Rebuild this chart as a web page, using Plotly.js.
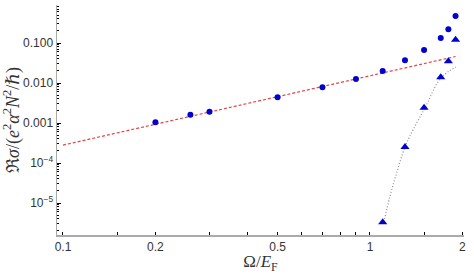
<!DOCTYPE html>
<html><head><meta charset="utf-8">
<script src="https://cdn.plot.ly/plotly-3.0.1.min.js"></script>
<style>body{margin:0;padding:0;background:#fff}#plot{width:474px;height:274px}</style>
</head><body><div id="plot"></div>
<script>
// Data
const dotX = [0.2, 0.26, 0.30, 0.5, 0.7, 0.9, 1.1, 1.3, 1.5, 1.7, 1.8, 1.9];
const dotY = [0.00105, 0.0016, 0.0019, 0.0044, 0.0078, 0.0125, 0.02, 0.037, 0.067, 0.133, 0.22, 0.47];
const triX = [1.1, 1.3, 1.5, 1.7, 1.8, 1.9];
const triY = [3.3e-6, 2.5e-4, 0.0024, 0.014, 0.035, 0.12];
const fitX = [0.1, 1.9];
const fitY = [2.8e-4, 0.046];
const curveX = [1.11, 1.16, 1.224, 1.30, 1.38, 1.51, 1.70, 1.905];
const curveY = [3.35e-6, 1.41e-5, 5.96e-5, 2.5e-4, 6.7e-4, 2.37e-3, 1.33e-2, 0.025];
const xTickVals = [0.1, 0.15, 0.2, 0.3, 0.4, 0.5, 0.6, 0.7, 0.8, 0.9, 1, 1.5, 2];
const xTickText = ['0.1', '', '0.2', '', '', '0.5', '', '', '', '', '1', '', '2'];
const yTickVals = [1e-5, 1e-4, 1e-3, 1e-2, 1e-1];
const yTickText = ['10<sup>−5</sup>', '10<sup>−4</sup>', '0.001', '0.010', '0.100'];

const blue = 'rgb(0,0,210)';
const traces = [
  {x: fitX, y: fitY, mode: 'lines', line: {color: 'rgb(225,70,70)', dash: '3px,2px', width: 1.2}, hoverinfo: 'skip'},
  {x: curveX, y: curveY, mode: 'lines', line: {color: 'rgb(140,140,140)', dash: '1px,2px', width: 1.2, shape: 'spline'}, hoverinfo: 'skip'},
  {x: dotX, y: dotY, mode: 'markers', marker: {color: blue, size: 6, symbol: 'circle'}},
  {x: triX, y: triY, mode: 'markers', marker: {color: blue, size: 8, symbol: 'triangle-up'}}
];
const layout = {
  width: 474, height: 274,
  margin: {l: 57, r: 10, t: 5, b: 39},
  showlegend: false,
  paper_bgcolor: '#fff', plot_bgcolor: '#fff',
  font: {family: 'Liberation Sans, Arial, sans-serif', size: 11, color: '#333'},
  xaxis: {
    type: 'log', range: [-1.0195, 0.3062],
    tickvals: xTickVals, ticktext: xTickText,
    ticks: 'inside', ticklen: 3, tickcolor: '#000', tickwidth: 1,
    showline: true, linecolor: '#aaa', linewidth: 1.5,
    showgrid: false, zeroline: false,
    tickfont: {size: 12, color: '#333'},
    title: {text: 'Ω/<i>E</i><sub>F</sub>', font: {family: 'Liberation Serif, DejaVu Serif, serif', size: 17, color: '#333'}, standoff: 2}
  },
  yaxis: {
    type: 'log', range: [-5.8, -0.05],
    tickvals: yTickVals, ticktext: yTickText,
    ticks: 'inside', ticklen: 4, tickcolor: '#000', tickwidth: 1,
    minor: {tickvals: (function(){const v=[];for(let e=-6;e<=0;e++){for(let d=2;d<=9;d++){v.push(d*Math.pow(10,e));}}return v;})(), ticks: 'inside', ticklen: 2, tickcolor: '#000', showgrid: false},
    showline: true, linecolor: '#aaa', linewidth: 1.5,
    showgrid: false, zeroline: false,
    tickfont: {size: 12, color: '#333'},
    title: {text: 'ℜ<i>σ</i>/(<i>e</i><sup>2</sup><i>α</i><sup>2</sup><i>N</i><sup>2</sup>/<i>ℏ</i>)', font: {family: 'Liberation Serif, DejaVu Serif, serif', size: 18, color: '#333'}, standoff: 4}
  }
};
Plotly.newPlot('plot', traces, layout, {staticPlot: true, displayModeBar: false});
</script>
</body></html>
